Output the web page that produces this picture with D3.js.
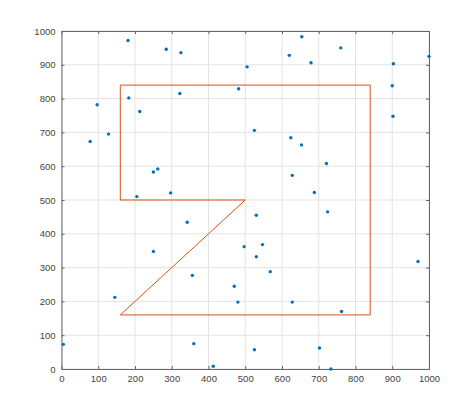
<!DOCTYPE html>
<html><head><meta charset="utf-8">
<script src="https://cdn.jsdelivr.net/npm/d3@7"></script>
<style>body{margin:0;background:#fff}text{font-family:Helvetica,"Liberation Sans",Arial,sans-serif}</style>
</head><body><svg id="chart" width="474" height="415"></svg>
<script>
const xs = [5,78,97,128,145,181,183,205,213,250,250,262,297,285,325,322,342,356,360,413,470,480,482,497,505,525,525,530,530,547,568,620,624,628,628,653,654,679,688,702,721,724,733,760,762,900,902,903,970,1000];
const ys = [73,673,782,695,212,972,802,510,762,348,583,592,521,946,936,815,434,277,75,8,245,198,829,362,894,57,706,455,332,368,288,928,684,198,573,663,983,906,522,62,608,465,0,950,170,838,748,903,318,925];
const polyX = [160,840,840,160,500,160,160];
const polyY = [840,840,160,160,500,500,840];
const ticks = [0,100,200,300,400,500,600,700,800,900,1000];

const svg = d3.select('#chart');
const x = d3.scaleLinear().domain([0,1000]).range([61.5,429]);
const y = d3.scaleLinear().domain([0,1000]).range([369,31]);

// grid
svg.append('g').selectAll('line').data(ticks).enter().append('line')
	.attr('x1', d => x(d)).attr('x2', d => x(d)).attr('y1', y(0)).attr('y2', y(1000))
	.attr('stroke', '#e3e3e3').attr('stroke-width', 1);
svg.append('g').selectAll('line').data(ticks).enter().append('line')
	.attr('y1', d => y(d)).attr('y2', d => y(d)).attr('x1', x(0)).attr('x2', x(1000))
	.attr('stroke', '#e3e3e3').attr('stroke-width', 1);

const fmt = d3.format('d');
const styleAxis = g => {
	g.select('.domain').attr('stroke', '#666');
	g.selectAll('.tick line').attr('stroke', '#666');
	g.selectAll('text').attr('fill', '#444').style('font-size', '9.5px');
};
svg.append('g').attr('transform', `translate(0,${y(0)})`)
	.call(d3.axisBottom(x).tickValues(ticks).tickFormat(fmt).tickSizeInner(-3).tickSizeOuter(0).tickPadding(6)).call(styleAxis);
svg.append('g').attr('transform', `translate(${x(0)},0)`)
	.call(d3.axisLeft(y).tickValues(ticks).tickFormat(fmt).tickSizeInner(-3).tickSizeOuter(0).tickPadding(6)).call(styleAxis);
svg.append('g').attr('transform', `translate(0,${y(1000)})`)
	.call(d3.axisTop(x).tickValues(ticks).tickFormat('').tickSizeInner(-3).tickSizeOuter(0)).call(styleAxis);
svg.append('g').attr('transform', `translate(${x(1000)},0)`)
	.call(d3.axisRight(y).tickValues(ticks).tickFormat('').tickSizeInner(-3).tickSizeOuter(0)).call(styleAxis);

// polygon
const line = d3.line().x(d => x(d[0])).y(d => y(d[1]));
svg.append('path').datum(polyX.map((v, i) => [v, polyY[i]]))
	.attr('d', line).attr('fill', 'none').attr('stroke', '#D95319').attr('stroke-width', 1);

// points
svg.append('g').selectAll('circle').data(xs).enter().append('circle')
	.attr('cx', d => x(d)).attr('cy', (d, i) => y(ys[i])).attr('r', 1.7).attr('fill', '#0072BD');
</script></body></html>
